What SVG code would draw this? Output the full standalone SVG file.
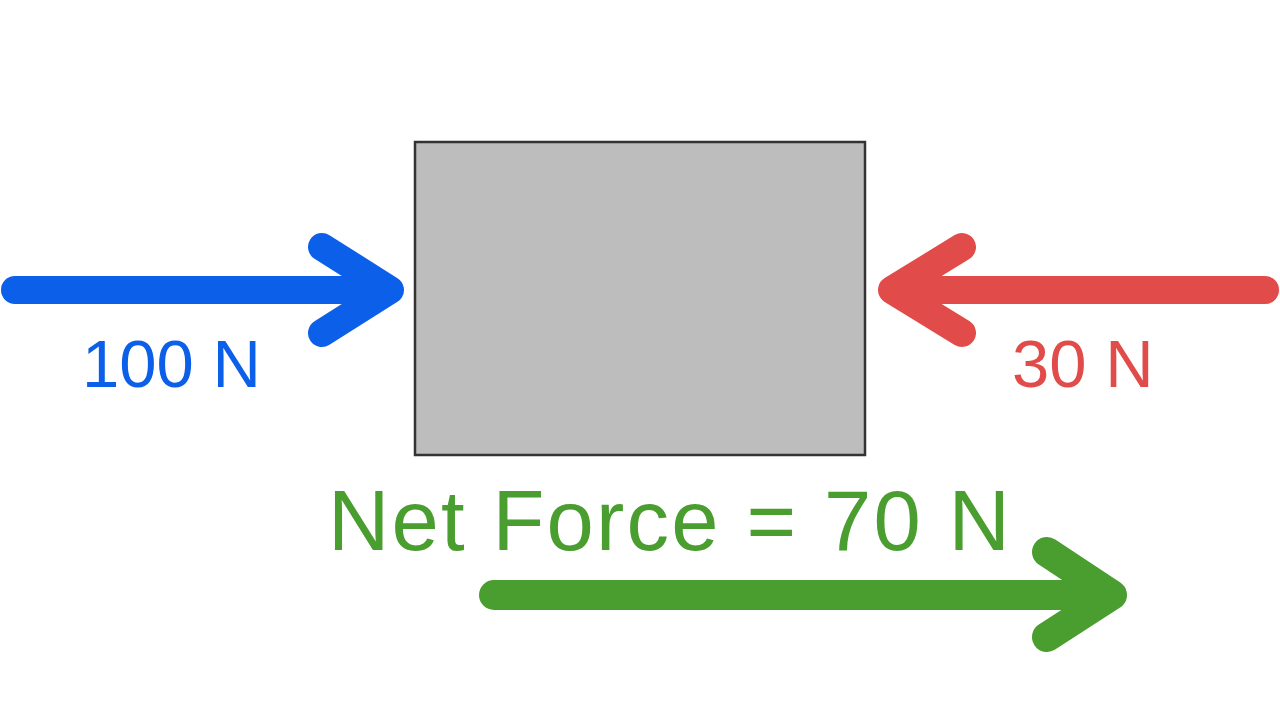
<svg xmlns="http://www.w3.org/2000/svg" width="1280" height="720" viewBox="0 0 1280 720">
<style>
.lbl{font-family:"Liberation Sans",Arial,sans-serif}
.arr{fill:none;stroke-linecap:round;stroke-linejoin:round}
</style>
<rect width="1280" height="720" fill="#ffffff"/>
<g id="box">
<rect x="415" y="142" width="450" height="313" fill="#bdbdbd" stroke="#333333" stroke-width="2.5"/>
</g>
<g id="connectors">
<g id="blue-force" class="arr" stroke="#0b5fe8" stroke-width="28">
<line x1="15" y1="290" x2="385" y2="290"/>
<polyline points="322,247 390,290 322,333"/>
</g>
<g id="red-force" class="arr" stroke="#e14c4a" stroke-width="28">
<line x1="1265" y1="290" x2="895" y2="290"/>
<polyline points="962,247 892,290 962,333"/>
</g>
<g id="net-force" class="arr" stroke="#4a9d2f" stroke-width="30">
<line x1="494" y1="595" x2="1105" y2="595"/>
<polyline points="1047,552 1112,595 1047,637"/>
</g>
</g>
<g id="labels">
<text class="lbl" x="82" y="387" font-size="67" fill="#0b5fe8">100 N</text>
<text class="lbl" x="1012" y="387" font-size="67" fill="#e14c4a">30 N</text>
<text class="lbl" x="328" y="550" font-size="85" fill="#4a9d2f" textLength="682" lengthAdjust="spacing">Net Force = 70 N</text>
</g>
</svg>
